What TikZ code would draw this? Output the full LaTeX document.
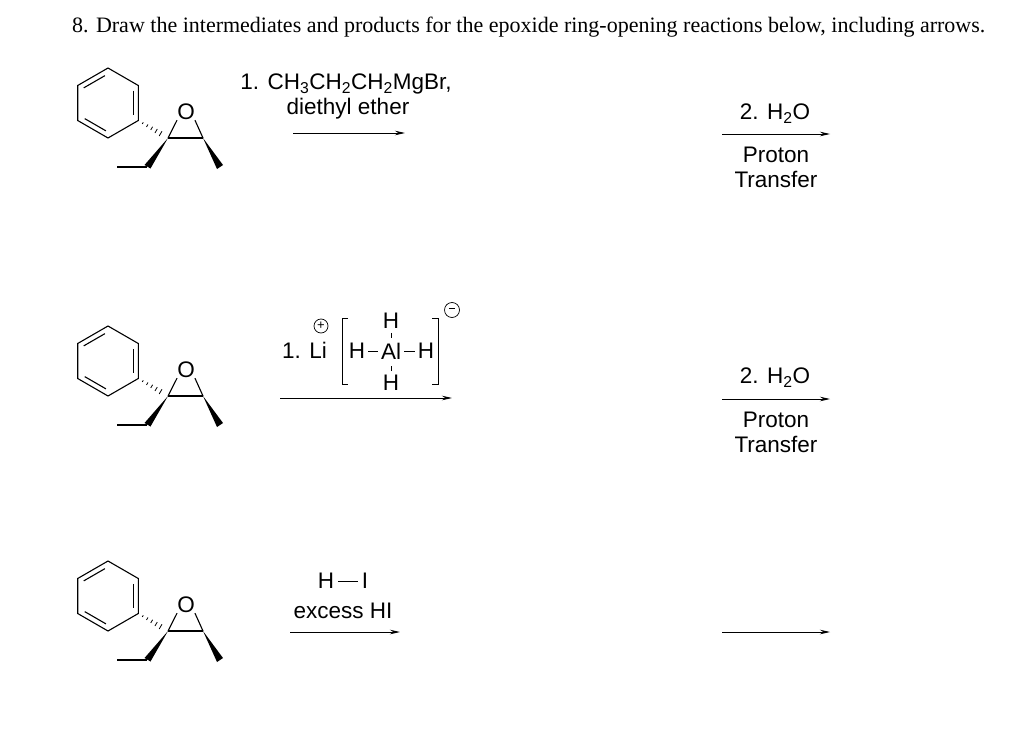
\documentclass[tikz,border=0pt]{standalone}
\usepackage{fontspec}
\setmainfont{Liberation Sans}
\newfontfamily\tnr{Liberation Serif}
\usetikzlibrary{arrows.meta,calc}
\newcommand{\sbs}[1]{\textsubscript{#1}}
\begin{document}
\begin{tikzpicture}[x=1pt,y=-1pt,
  bond/.style={line width=1.1pt},
  rx/.style={line width=0.9pt,-{Stealth[length=10pt,width=4.5pt]}},
  lab/.style={font=\fontsize{22.5}{24}\selectfont,inner sep=0pt},
  wedge/.style={fill=black}]
\useasboundingbox (0,0) rectangle (1024,741);
\node[font=\tnr\fontsize{22}{24}\selectfont,anchor=west,inner sep=0pt] (title) at (72,27) {8. Draw the intermediates and products for the epoxide ring-opening reactions below, including arrows.};
\foreach \dy/\n in {0/a,258/b,493/c}{
\begin{scope}[yshift=-\dy]
 \coordinate (t\n) at (108,68); \coordinate (ur\n) at (138.3,85.5); \coordinate (lr\n) at (138.3,120.5);
 \coordinate (b\n) at (108,138); \coordinate (ll\n) at (77.7,120.5); \coordinate (ul\n) at (77.7,85.5);
 \draw[bond] (t\n)--(ur\n)--(lr\n)--(b\n)--(ll\n)--(ul\n)--cycle;
 \draw[bond] ($(t\n)!0.15!(ul\n)+(1.5,5)$) -- ($(t\n)!0.85!(ul\n)+(1.5,5)$);
 \draw[bond] ($(ur\n)!0.15!(lr\n)+(-5,0)$) -- ($(ur\n)!0.85!(lr\n)+(-5,0)$);
 \draw[bond] ($(ll\n)!0.15!(b\n)+(2.5,-4.5)$) -- ($(ll\n)!0.85!(b\n)+(2.5,-4.5)$);
 \node[lab] (o\n) at (186,112) {O};
 \coordinate (c1\n) at (168,138); \coordinate (c2\n) at (203,138);
 \draw[bond] (c1\n)--(c2\n); \draw[bond] (c1\n)--(o\n.south west); \draw[bond] (c2\n)--(o\n.south east);
 \foreach \f in {0.15,0.3,0.45,0.6,0.75}{
   \pgfmathsetmacro{\w}{0.5+3*\f}
   \draw[line width=0.8pt] ($(lr\n)+(29.7*\f,17.5*\f)+(-0.507*\w,0.861*\w)$) -- ($(lr\n)+(29.7*\f,17.5*\f)-(-0.507*\w,0.861*\w)$);}
 \coordinate (e1\n) at (147,167); \coordinate (e2\n) at (117,167); \coordinate (e3\n) at (220,167);
 \fill[wedge] (c1\n) -- ($(e1\n)+(3.5,1.5)$) -- ($(e1\n)+(-2.5,-2)$) -- cycle;
 \draw[bond] (e1\n)--(e2\n);
 \fill[wedge] (c2\n) -- ($(e3\n)+(3,-2)$) -- ($(e3\n)+(-3,2)$) -- cycle;
\end{scope}}
% row 1
\node[lab] (r1a) at (346,84) {1. CH\sbs{3}CH\sbs{2}CH\sbs{2}MgBr,};
\node[lab] (r1b) at (348,109) {diethyl ether};
\coordinate (a1s) at (293,133); \coordinate (a1e) at (405,133);
\draw[rx] (a1s)--(a1e);
\node[lab] (r1c) at (775,114) {2. H\sbs{2}O};
\coordinate (a2s) at (722,134); \coordinate (a2e) at (830,134);
\draw[rx] (a2s)--(a2e);
\node[lab] (r1d) at (776,155) {Proton};
\node[lab] (r1e) at (776,179) {Transfer};
% row 2
\node[lab,anchor=west] (li) at (282,350) {1. Li};
\node[draw,circle,minimum size=14pt,inner sep=0pt,font=\fontsize{13}{13}\selectfont,line width=0.7pt] (plus) at (321,326) {+};
\draw[line width=0.8pt] (348,318)--(342,318)--(342,384)--(348,384);
\draw[line width=0.8pt] (432,318)--(438,318)--(438,384)--(432,384);
\node[draw,circle,minimum size=15pt,inner sep=0pt,font=\fontsize{13}{13}\selectfont,line width=0.7pt] (minus) at (452,310) {\rule[0.25em]{0.5em}{0.8pt}};
\node[lab] (al) at (391,351) {Al};
\node[lab] (ht) at (391,321) {H};
\node[lab] (hb) at (391,383) {H};
\node[lab] (hl) at (357,351) {H};
\node[lab] (hr) at (426,351) {H};
\draw[line width=0.8pt] ($(ht.south)+(0,4)$) -- ++(0,5);
\draw[line width=0.8pt] ($(hb.north)+(0,-4)$) -- ++(0,-5);
\draw[line width=0.8pt] ($(hl.east)+(3,0)$) -- ($(al.west)+(-3,0)$);
\draw[line width=0.8pt] ($(al.east)+(3,0)$) -- ($(hr.west)+(-3,0)$);
\coordinate (b1s) at (280,398); \coordinate (b1e) at (452,398);
\draw[rx] (b1s)--(b1e);
\node[lab] (r2c) at (775,378) {2. H\sbs{2}O};
\coordinate (b2s) at (722,399); \coordinate (b2e) at (830,399);
\draw[rx] (b2s)--(b2e);
\node[lab] (r2d) at (776,420) {Proton};
\node[lab] (r2e) at (776,444) {Transfer};
% row 3
\node[lab] (hi) at (343,581) {H\,\rule[0.3em]{0.9em}{0.9pt}\,I};
\node[lab] (ex) at (343,611) {excess HI};
\coordinate (c1s) at (290,632); \coordinate (c1e) at (400,632);
\draw[rx] (c1s)--(c1e);
\coordinate (c2s) at (722,632); \coordinate (c2e) at (830,632);
\draw[rx] (c2s)--(c2e);
\end{tikzpicture}
\end{document}
